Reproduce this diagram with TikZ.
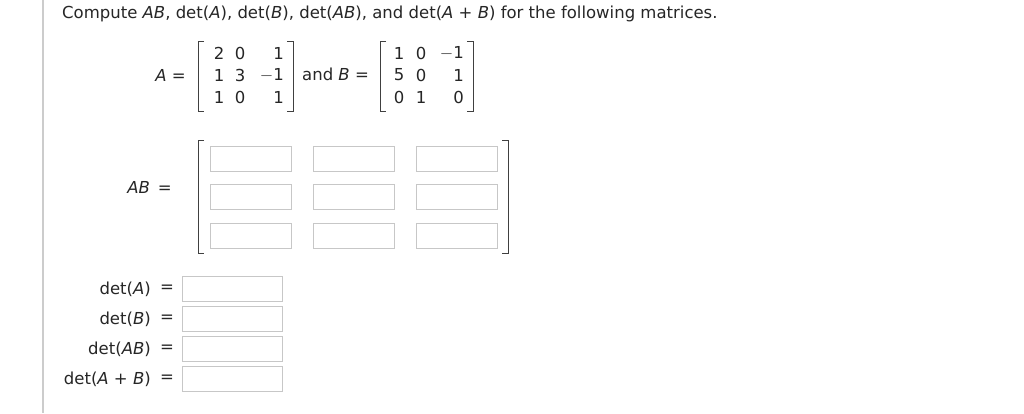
\documentclass[tikz,border=0pt]{standalone}
\usepackage{fontspec}
\setmainfont{DejaVu Sans}
\begin{document}
\begin{tikzpicture}[x=1pt,y=-1pt,
  txt/.style={inner sep=0pt,font=\fontsize{16.5}{19}\selectfont,text=black!85},
  field/.style={draw=black!22,line width=0.8pt,fill=white,minimum width=81pt,minimum height=25pt,inner sep=0pt},
  dfield/.style={field,minimum width=100pt},
  brk/.style={draw=black!75,line width=0.8pt}]
\useasboundingbox (0,0) rectangle (1024,413);
\fill[white] (0,0) rectangle (1024,413);
\draw[black!20,line width=1.5pt] (43,0) -- (43,413);
\node[txt,anchor=base west] (title) at (62,18) {Compute \textit{AB}, det(\textit{A}), det(\textit{B}), det(\textit{AB}), and det(\textit{A} + \textit{B}) for the following matrices.};
% A
\node[txt,anchor=east] (la) at (186,75) {\textit{A} =};
\node[txt] (a11) at (219,53) {2}; \node[txt] (a12) at (240,53) {0}; \node[txt,anchor=east] (a13) at (284,53) {1};
\node[txt] (a21) at (219,75) {1}; \node[txt] (a22) at (240,75) {3}; \node[txt,anchor=east] (a23) at (284,75) {$-$1};
\node[txt] (a31) at (219,97) {1}; \node[txt] (a32) at (240,97) {0}; \node[txt,anchor=east] (a33) at (284,97) {1};
\draw[brk] (204,41) -- (198,41) -- (198,111) -- (204,111);
\draw[brk] (287,41) -- (293,41) -- (293,111) -- (287,111);
\node[txt,anchor=west] (lb) at (302,74) {and \textit{B} =};
\node[txt] (b11) at (399,53) {1}; \node[txt] (b12) at (421,53) {0}; \node[txt,anchor=east] (b13) at (464,53) {$-$1};
\node[txt] (b21) at (399,75) {5}; \node[txt] (b22) at (421,75) {0}; \node[txt,anchor=east] (b23) at (464,75) {1};
\node[txt] (b31) at (399,97) {0}; \node[txt] (b32) at (421,97) {1}; \node[txt,anchor=east] (b33) at (464,97) {0};
\draw[brk] (386,41) -- (380,41) -- (380,111) -- (386,111);
\draw[brk] (467,41) -- (473,41) -- (473,111) -- (467,111);
% AB
\node[txt,anchor=east] (lab) at (172,187) {\textit{AB} \,=};
\draw[brk] (204,140) -- (198,140) -- (198,253) -- (204,253);
\draw[brk] (502,140) -- (508,140) -- (508,253) -- (502,253);
\foreach \c/\x in {1/250.5,2/353.5,3/456.5}{
  \foreach \r/\y in {1/158.5,2/196.5,3/235.5}{
    \node[field] (f\r\c) at (\x,\y) {};
  }}
% determinants
\foreach \i/\y/\t in {1/289/{det(\textit{A})},2/319/{det(\textit{B})},3/349/{det(\textit{AB})},4/379/{det(\textit{A} + \textit{B})}}{
  \node[txt,anchor=east] (dl\i) at (151,\y) {\t};
  \node[txt] (de\i) at (167,\y) {=};
  \node[dfield] (df\i) at (232,\y) {};
}
\end{tikzpicture}
\end{document}
